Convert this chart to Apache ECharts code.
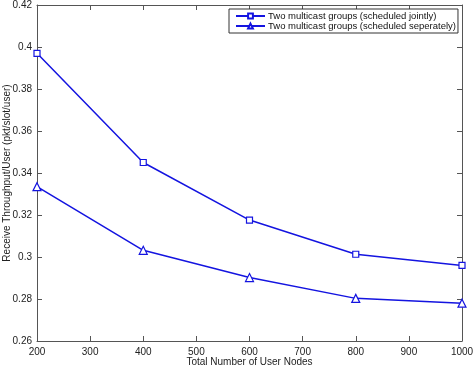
<!DOCTYPE html>
<html><head><meta charset="utf-8">
<script src="https://cdn.jsdelivr.net/npm/echarts@6/dist/echarts.min.js"></script>
<style>html,body{margin:0;padding:0;background:#fff}#c{width:474px;height:369px}</style>
</head><body><div id="c"></div>
<script>
const nodes = [200, 400, 600, 800, 1000];
const jointly = [0.397, 0.345, 0.3176, 0.3013, 0.2960];
const separately = [0.3335, 0.3032, 0.2902, 0.2803, 0.2780];
const seriesNames = ['Two multicast groups (scheduled jointly)', 'Two multicast groups (scheduled seperately)'];
const xName = 'Total Number of User Nodes';
const yName = 'Receive Throughput/User (pkt/slot/user)';

const blue = '#1414e0';
const axisCol = '#555';
const font = 'Liberation Sans, Arial, sans-serif';
const chart = echarts.init(document.getElementById('c'), null, {renderer: 'canvas'});
const baseX = {
  type: 'value', min: 200, max: 1000, interval: 100,
  axisLine: {show: true, lineStyle: {color: axisCol, width: 1}},
  axisTick: {show: true, inside: true, length: 5, lineStyle: {color: axisCol}},
  splitLine: {show: false}
};
const baseY = {
  type: 'value', min: 0.26, max: 0.42, interval: 0.02,
  axisLine: {show: true, lineStyle: {color: axisCol, width: 1}},
  axisTick: {show: true, inside: true, length: 5, lineStyle: {color: axisCol}},
  splitLine: {show: false}
};
chart.setOption({
  animation: false,
  backgroundColor: '#fff',
  grid: {left: 37, top: 5, right: 12, bottom: 28, containLabel: false, outerBoundsMode: 'none'},
  legend: {
    left: 229, top: 9, orient: 'vertical',
    data: seriesNames,
    itemWidth: 29, itemHeight: 6, itemGap: 0,
    padding: [2, 2, 2, 6],
    borderColor: '#333', borderWidth: 1, backgroundColor: '#fff',
    textStyle: {fontFamily: font, fontSize: 9.5, lineHeight: 10, color: '#111', padding: [0, 0, 0, -2]}
  },
  xAxis: [
    Object.assign({}, baseX, {
      position: 'bottom',
      name: xName, nameLocation: 'middle', nameGap: 16, nameMoveOverlap: false,
      nameTextStyle: {fontFamily: font, fontSize: 10, color: '#222'},
      axisLabel: {fontFamily: font, fontSize: 10, color: '#222', margin: 6, formatter: v => String(v)}
    }),
    Object.assign({}, baseX, {position: 'top', axisLabel: {show: false}})
  ],
  yAxis: [
    Object.assign({}, baseY, {
      position: 'left',
      name: yName, nameLocation: 'middle', nameGap: 25, nameMoveOverlap: false,
      nameTextStyle: {fontFamily: font, fontSize: 10, color: '#222'},
      axisLabel: {fontFamily: font, fontSize: 10, color: '#222', margin: 5}
    }),
    Object.assign({}, baseY, {position: 'right', axisLabel: {show: false}})
  ],
  series: [
    {
      name: seriesNames[0], type: 'line', xAxisIndex: 0, yAxisIndex: 0,
      data: nodes.map((x, i) => [x, jointly[i]]),
      symbol: 'rect', symbolSize: 6, showAllSymbol: true,
      lineStyle: {color: blue, width: 1.5},
      itemStyle: {color: '#fff', borderColor: blue, borderWidth: 1.2}
    },
    {
      name: seriesNames[1], type: 'line', xAxisIndex: 0, yAxisIndex: 0,
      data: nodes.map((x, i) => [x, separately[i]]),
      symbol: 'triangle', symbolSize: 8, showAllSymbol: true,
      lineStyle: {color: blue, width: 1.5},
      itemStyle: {color: '#fff', borderColor: blue, borderWidth: 1.2}
    }
  ]
});
</script></body></html>
